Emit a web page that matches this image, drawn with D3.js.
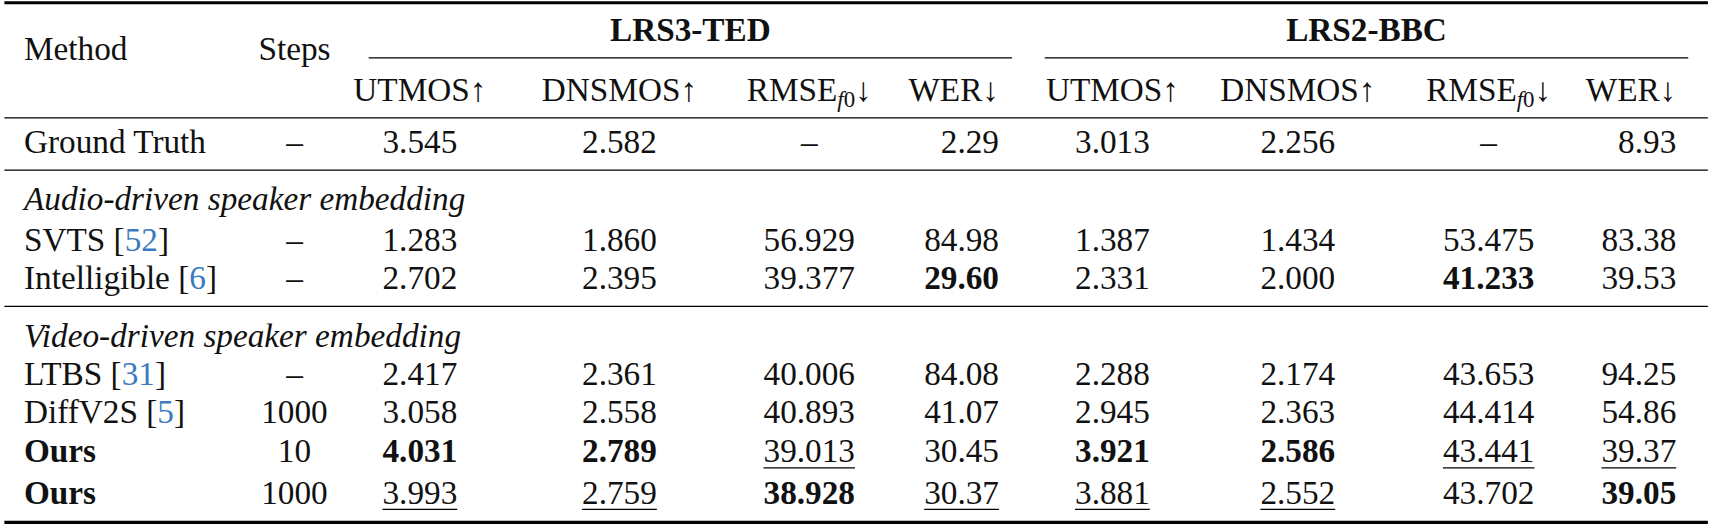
<!DOCTYPE html>
<html><head><meta charset="utf-8">
<script src="https://cdn.jsdelivr.net/npm/d3@7"></script>
<style>body{margin:0;background:#fff}text{font-family:"Liberation Serif",serif;font-size:30.5px;fill:#111}</style>
</head><body>
<script>
var w = 1710, h = 526;

// table data
var groups = ["LRS3-TED", "LRS2-BBC"];
var metrics = ["UTMOS↑", "DNSMOS↑", "RMSE_f0↓", "WER↓"];
var sections = ["", "Audio-driven speaker embedding", "Video-driven speaker embedding"];
var methods = [
    {name: "Ground Truth", sec: 0, steps: "–", bold: false},
    {name: "SVTS", cite: "52", sec: 1, steps: "–"},
    {name: "Intelligible", cite: "6", sec: 1, steps: "–"},
    {name: "LTBS", cite: "31", sec: 2, steps: "–"},
    {name: "DiffV2S", cite: "5", sec: 2, steps: "1000"},
    {name: "Ours", sec: 2, steps: "10", bold: true},
    {name: "Ours", sec: 2, steps: "1000", bold: true}
];
var values = [
    ["3.545","2.582","–","2.29","3.013","2.256","–","8.93"],
    ["1.283","1.860","56.929","84.98","1.387","1.434","53.475","83.38"],
    ["2.702","2.395","39.377","29.60","2.331","2.000","41.233","39.53"],
    ["2.417","2.361","40.006","84.08","2.288","2.174","43.653","94.25"],
    ["3.058","2.558","40.893","41.07","2.945","2.363","44.414","54.86"],
    ["4.031","2.789","39.013","30.45","3.921","2.586","43.441","39.37"],
    ["3.993","2.759","38.928","30.37","3.881","2.552","43.702","39.05"]
];
// b = bold, u = underline
var marks = [
    ["","","","","","","",""],
    ["","","","","","","",""],
    ["","","","b","","","b",""],
    ["","","","","","","",""],
    ["","","","","","","",""],
    ["b","b","u","","b","b","u","u"],
    ["u","u","b","u","u","u","","b"]
];
var rowY = [130, 220, 255, 343, 378, 414, 452];
var sectionY = [0, 183, 308];

var svg = d3.select("body").append("svg").attr("width", w).attr("height", h)
    .append("g").attr("transform", "scale(1.0906)");

// column positions: centre for most, right edge for WER
var colX = [385, 568, 742, 916, 1020, 1190, 1365, 1537];
var colAnchor = ["middle","middle","middle","end","middle","middle","middle","end"];

function rule(x1, x2, y, sw) {
    svg.append("line").attr("x1", x1).attr("x2", x2).attr("y1", y).attr("y2", y)
        .attr("stroke", "#000").attr("stroke-width", sw);
}
rule(4, 1566, 2.5, 2.8);
rule(4, 1566, 108, 1.1);
rule(4, 1566, 156, 1.1);
rule(4, 1566, 281, 1.1);
rule(4, 1566, 479, 2.8);
rule(338, 928, 53, 1.1);
rule(958, 1548, 53, 1.1);

// headers
svg.append("text").attr("x", 22).attr("y", 55).text("Method");
svg.append("text").attr("x", 270).attr("y", 55).attr("text-anchor", "middle").text("Steps");
svg.selectAll(".grp").data(groups).enter().append("text")
    .attr("class", "grp").attr("x", function(d, i){ return i ? 1253 : 633; })
    .attr("y", 38).attr("text-anchor", "middle").style("font-weight", "bold").text(function(d){ return d; });

var hdr = [];
groups.forEach(function(){ metrics.forEach(function(m){ hdr.push(m); }); });
svg.selectAll(".hdr").data(hdr).enter().append("text")
    .attr("class", "hdr")
    .attr("x", function(d, i){ return colX[i]; })
    .attr("y", 93)
    .attr("text-anchor", function(d, i){ return colAnchor[i]; })
    .each(function(d){
        var t = d3.select(this);
        if (d.indexOf("_f0") >= 0) {
            t.append("tspan").text("RMSE");
            t.append("tspan").attr("dy", 5).style("font-size", "21px").style("font-style", "italic").text("f");
            t.append("tspan").style("font-size", "21px").text("0");
            t.append("tspan").attr("dy", -5).text("↓");
        } else t.text(d);
    });

// section titles
sections.forEach(function(s, i){
    if (s) svg.append("text").attr("x", 22).attr("y", sectionY[i] + 10).style("font-style", "italic").text(s);
});

// rows
methods.forEach(function(m, r){
    var y = rowY[r] + 10;
    var t = svg.append("text").attr("x", 22).attr("y", y);
    t.append("tspan").style("font-weight", m.bold ? "bold" : "normal").text(m.name);
    if (m.cite) {
        t.append("tspan").text(" [");
        t.append("tspan").style("fill", "#3a7bbf").text(m.cite);
        t.append("tspan").text("]");
    }
    svg.append("text").attr("x", 270).attr("y", y).attr("text-anchor", "middle").text(m.steps);
    values[r].forEach(function(v, c){
        var mk = marks[r][c];
        var cell = svg.append("text").attr("x", colX[c]).attr("y", y)
            .attr("text-anchor", colAnchor[c])
            .style("font-weight", mk === "b" ? "bold" : "normal").text(v);
        if (mk === "u") {
            var bb = cell.node().getBBox();
            rule(bb.x, bb.x + bb.width, y + 5, 1.1);
        }
    });
});
</script>
</body></html>
